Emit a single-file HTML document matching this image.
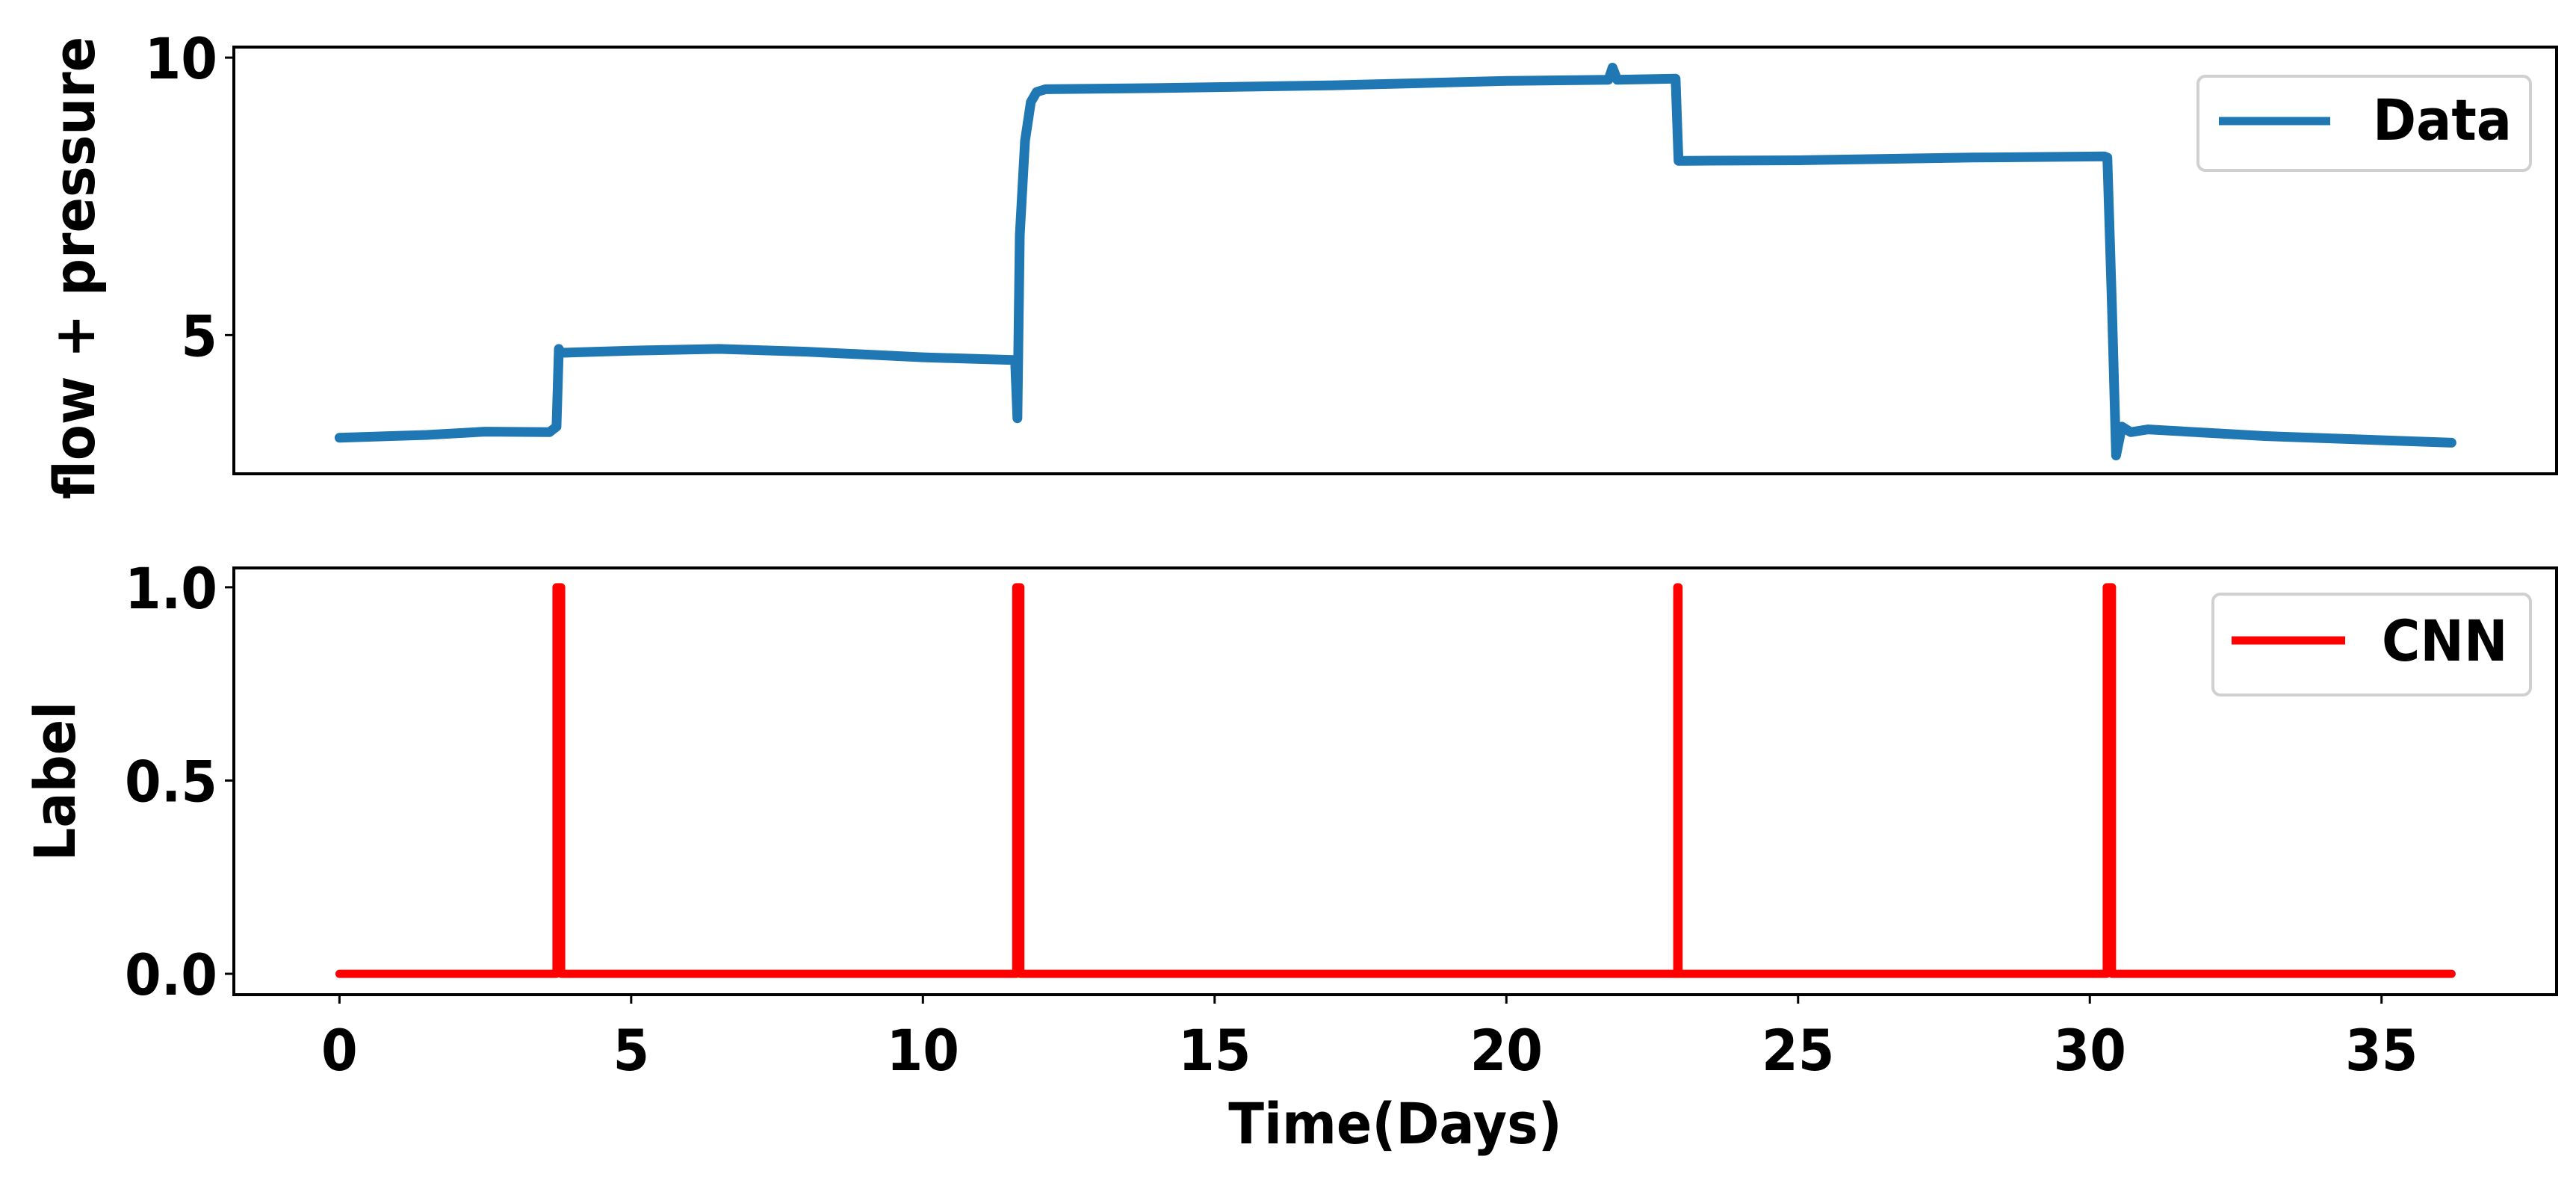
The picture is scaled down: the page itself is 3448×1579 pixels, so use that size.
<!DOCTYPE html>
<html>
<head>
<meta charset="utf-8">
<style>
  html,body{margin:0;padding:0;background:#fff;}
  svg{display:block;}
  text{font-family:"DejaVu Sans","Liberation Sans",sans-serif;font-weight:bold;fill:#000;}
</style>
</head>
<body>
<svg id="chart" width="3448" height="1579" viewBox="0 0 3448 1579" xmlns="http://www.w3.org/2000/svg"></svg>
<script>
// ---- data ----
const dataT = [0, 1.5, 2.5, 3.6, 3.72, 3.76, 3.8, 5, 6.5, 8, 10, 11.55, 11.58, 11.62, 11.66, 11.75, 11.85, 11.95, 12.1, 14, 17, 20, 21.75, 21.82, 21.9, 22.9, 22.95, 23.05, 25, 28, 30.25, 30.3, 30.38, 30.45, 30.55, 30.7, 31, 33, 36.2];
const dataV = [3.15, 3.2, 3.26, 3.25, 3.35, 4.75, 4.68, 4.72, 4.75, 4.7, 4.6, 4.55, 4.55, 3.5, 6.8, 8.5, 9.2, 9.38, 9.43, 9.45, 9.5, 9.58, 9.6, 9.82, 9.6, 9.62, 8.14, 8.14, 8.15, 8.2, 8.22, 8.2, 5.5, 2.83, 3.35, 3.25, 3.3, 3.18, 3.06];
const cnnStart = [3.72, 11.6, 22.93, 30.29];
const cnnEnd   = [3.8, 11.67, 22.95, 30.38];
const cnnTMax = 36.2;
const xTicks = [0, 5, 10, 15, 20, 25, 30, 35];
const topYTicks = [5, 10];
const botYTicks = [0.0, 0.5, 1.0];
const botYLabels = ["0.0", "0.5", "1.0"];

// ---- layout ----
const NS = "http://www.w3.org/2000/svg";
const svg = document.getElementById("chart");
const L = 313, R = 3422;
const topA = {t: 63, b: 634, ymin: 2.5, ymax: 10.19};
const botA = {t: 760, b: 1331, ymin: -0.054, ymax: 1.05};
const xmin = -1.81, xmax = 38.0;
const X = t => L + (t - xmin) / (xmax - xmin) * (R - L);
const Y = (a, v) => a.b - (v - a.ymin) / (a.ymax - a.ymin) * (a.b - a.t);
const FS = 70;

function mk(tag, attrs, parent) {
  const e = document.createElementNS(NS, tag);
  for (const k in attrs) e.setAttribute(k, attrs[k]);
  (parent || svg).appendChild(e);
  return e;
}
function txt(str, x, y, size, anchor, parent, rot) {
  const e = mk("text", {"font-size": size, "text-anchor": anchor}, parent);
  e.setAttribute("transform", `translate(${x},${y})` + (rot ? ` rotate(${rot})` : "") + " scale(1,1.08)");
  e.textContent = str;
  return e;
}

const defs = mk("defs", {});
[["clipTop", topA], ["clipBot", botA]].forEach(([id, a]) => {
  const cp = mk("clipPath", {id: id}, defs);
  mk("rect", {x: L, y: a.t, width: R - L, height: a.b - a.t}, cp);
});

// ---- top panel ----
const gTop = mk("g", {});


let d = "";
for (let i = 0; i < dataT.length; i++) d += (i ? "L" : "M") + X(dataT[i]).toFixed(1) + "," + Y(topA, dataV[i]).toFixed(1);
const dataLine = mk("path", {d: d, fill: "none", stroke: "#1f77b4", "stroke-width": 13, "stroke-linejoin": "round", "stroke-linecap": "round", "clip-path": "url(#clipTop)"}, gTop);



const topFrame = mk("rect", {x: L, y: topA.t, width: R - L, height: topA.b - topA.t, fill: "none", stroke: "#000", "stroke-width": 4}, gTop);


topYTicks.forEach(v => {
  const y = Y(topA, v);
  const tk = mk("line", {x1: L - 12, x2: L, y1: y, y2: y, stroke: "#000", "stroke-width": 3}, gTop);
  
  
  const lb = txt(String(v), L - 22, y + 28, FS, "end", gTop);
  
  
});
const topYTitle = txt("flow + pressure", 126, (topA.t + topA.b) / 2 + 10, FS, "middle", gTop, -90);



const lgTop = mk("g", {});


mk("rect", {x: 2942, y: 102, width: 445, height: 126, rx: 10, fill: "#fff", stroke: "#d0d0d0", "stroke-width": 4}, lgTop);
mk("line", {x1: 2970, x2: 3119, y1: 162, y2: 162, stroke: "#1f77b4", "stroke-width": 11}, lgTop);
txt("Data", 3176, 187, FS, "start", lgTop);

// ---- bottom panel ----
const gBot = mk("g", {});


let pts = [[0, 0]];
for (let i = 0; i < cnnStart.length; i++) {
  pts.push([cnnStart[i], 0], [cnnStart[i], 1], [cnnEnd[i], 1], [cnnEnd[i], 0]);
}
pts.push([cnnTMax, 0]);
let d2 = "";
pts.forEach((p, i) => { d2 += (i ? "L" : "M") + X(p[0]).toFixed(1) + "," + Y(botA, p[1]).toFixed(1); });
const cnnLine = mk("path", {d: d2, fill: "none", stroke: "#ff0000", "stroke-width": 11, "stroke-linejoin": "round", "stroke-linecap": "round", "clip-path": "url(#clipBot)"}, gBot);



const botFrame = mk("rect", {x: L, y: botA.t, width: R - L, height: botA.b - botA.t, fill: "none", stroke: "#000", "stroke-width": 4}, gBot);


botYTicks.forEach((v, i) => {
  const y = Y(botA, v);
  const tk = mk("line", {x1: L - 12, x2: L, y1: y, y2: y, stroke: "#000", "stroke-width": 3}, gBot);
  
  
  const lb = txt(botYLabels[i], L - 22, y + 28, FS, "end", gBot);
  
  
});
xTicks.forEach(v => {
  const x = X(v);
  const tk = mk("line", {x1: x, x2: x, y1: botA.b, y2: botA.b + 12, stroke: "#000", "stroke-width": 3}, gBot);
  
  
  const lb = txt(String(v), x, 1432, FS, "middle", gBot);
  
  
});
const botYTitle = txt("Label", 100, (botA.t + botA.b) / 2, FS, "middle", gBot, -90);


const xTitle = txt("Time(Days)", (L + R) / 2, 1530, FS, "middle", gBot);



const lgBot = mk("g", {});


mk("rect", {x: 2962, y: 795, width: 425, height: 135, rx: 10, fill: "#fff", stroke: "#d0d0d0", "stroke-width": 4}, lgBot);
mk("line", {x1: 2987, x2: 3139, y1: 857, y2: 857, stroke: "#ff0000", "stroke-width": 11}, lgBot);
txt("CNN", 3188, 884, FS, "start", lgBot);
</script>
</body>
</html>
